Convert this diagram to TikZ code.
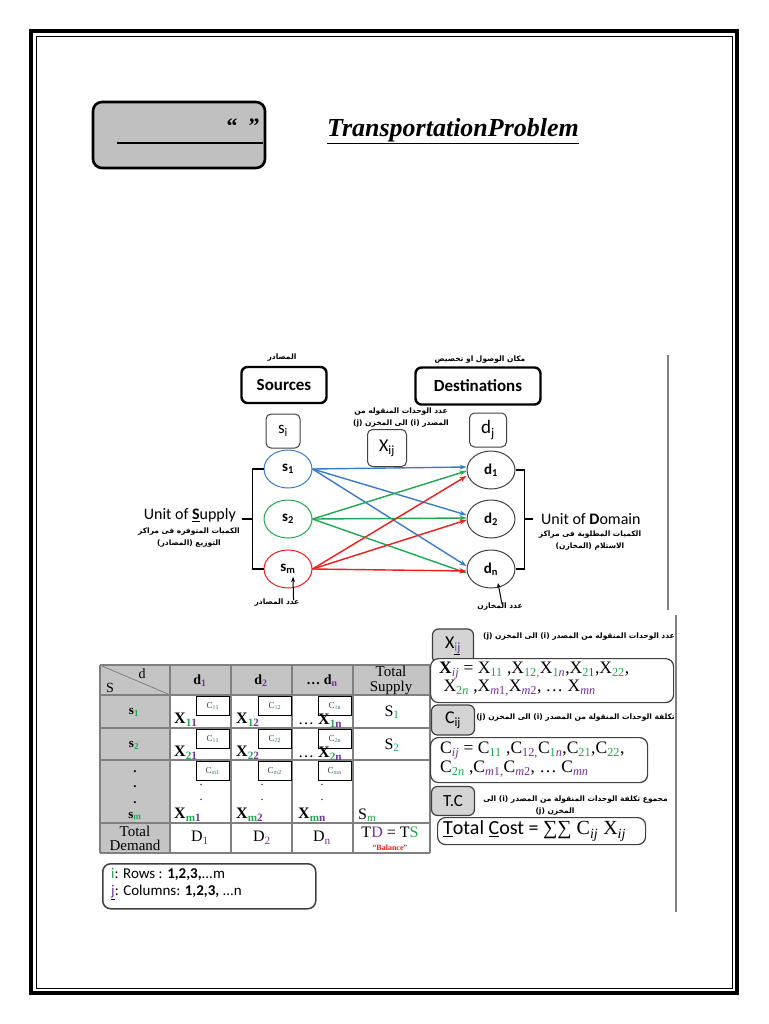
\documentclass[tikz,border=0pt]{standalone}
\usepackage{fontspec}
\usetikzlibrary{shapes.geometric,arrows.meta}
\setmainfont{Liberation Serif}
\newfontfamily\carl{Carlito}
\newfontfamily\arabicfont[Script=Arabic]{DejaVu Sans}
\TeXXeTstate=1
\definecolor{grn}{HTML}{1FA84F}
\definecolor{prp}{HTML}{7030A0}
\definecolor{boxgray}{HTML}{C0C0C0}
\definecolor{tgray}{HTML}{C4C4C4}
\definecolor{tagray}{HTML}{D4D4D4}
\definecolor{lgray}{HTML}{808080}
\definecolor{blu}{HTML}{3A7BC8}
\definecolor{rd}{HTML}{F21B1B}
\definecolor{dgray}{HTML}{404040}
\newcommand\fsz[2]{\fontsize{#1}{#2}\selectfont}
\newcommand\artx[1]{{\arabicfont\bfseries\beginR #1\endR}}
\newcommand\Li[1]{\beginL #1\endL}
\newcommand\gsub[1]{\textsubscript{\textcolor{grn}{#1}}}
\newcommand\psub[1]{\textsubscript{\textcolor{prp}{#1}}}
\newcommand\gpsub[2]{\textsubscript{\textcolor{grn}{#1}\textcolor{prp}{#2}}}
\begin{document}
\begin{tikzpicture}[x=1pt,y=-1pt,
  titlebox/.style={draw, line width=2.6pt, fill=boxgray, rounded corners=9pt},
  bigbox/.style={draw, line width=2.4pt, rounded corners=6pt, inner sep=0pt},
  smallbox/.style={draw=dgray, line width=1pt, rounded corners=5pt, inner sep=0pt},
  ell/.style={ellipse, line width=1pt, minimum width=48pt, minimum height=38pt, inner sep=0pt},
  arr/.style={line width=1.4pt, -{Stealth[length=7pt,width=5pt]}},
  smarr/.style={line width=1pt, -{Stealth[length=5pt,width=4pt]}},
  brk/.style={line width=1.5pt},
  artext/.style={inner sep=0pt, font=\fsz{7.5}{12}},
  tline/.style={draw=lgray, line width=1.2pt},
  cbox/.style={draw, line width=1.4pt, fill=white, inner sep=0pt, minimum width=33pt, minimum height=19pt, anchor=north east, font=\fsz{9}{10}\color{dgray}},
  ttxt/.style={inner sep=0pt},
  tag/.style={draw=dgray, line width=1.2pt, fill=tagray, rounded corners=6pt, inner sep=0pt},
  fbox/.style={draw=dgray, line width=1.2pt, fill=white, rounded corners=8pt, inner sep=0pt},
  vline/.style={draw=lgray, line width=1.5pt}
]
\useasboundingbox (0,0) rectangle (768,1024);
% page border
\draw[line width=4pt] (31,31) rectangle (737,993);
\draw[line width=0.8pt] (36,36) rectangle (732,988);

% title
\node[titlebox, minimum width=172pt, minimum height=66pt] (tb) at (179,135) {};
\node[inner sep=0pt] (tq) at (243,126) {\fsz{22}{24}\textbf{“\ \ ”}};
\draw[line width=1.6pt] (117,143) -- (263,143);
\node[inner sep=0pt] (title) at (453,131) {\fsz{26}{30}\underline{\textbf{\textit{TransportationProblem}}}};

% network
\node[bigbox, minimum width=85pt, minimum height=36pt] (src) at (284,385) {\carl\fsz{17}{20}\textbf{Sources}};
\node[bigbox, minimum width=125pt, minimum height=37pt] (dst) at (478,386) {\carl\fsz{17}{20}\textbf{Destinations}};
\node[artext] (srcar) at (282,358) {\artx{المصادر}};
\node[artext] (dstar) at (480,360) {\artx{مكان الوصول او تخصيص}};
\node[smallbox, minimum width=34pt, minimum height=34pt] (si) at (283,431) {\carl\fsz{17}{20}s\textsubscript{i}};
\node[smallbox, minimum width=37pt, minimum height=34pt] (dj) at (488,430) {\carl\fsz{19}{20}d\textsubscript{j}};
\node[smallbox, minimum width=39pt, minimum height=37pt] (xij) at (387,448) {\carl\fsz{18}{20}X\textsubscript{ij}};
\node[artext, align=center] (xijar) at (401,418) {\artx{عدد الوحدات المنقوله من}\\\artx{المصدر \Li{(i)} الى المخزن \Li{(j)}}};

\node[ell, draw=blu] (s1) at (288,469) {\carl\fsz{15}{18}\textbf{s\textsubscript{1}}};
\node[ell, draw=grn] (s2) at (288,519) {\carl\fsz{15}{18}\textbf{s\textsubscript{2}}};
\node[ell, draw=rd] (sm) at (288,569) {\carl\fsz{15}{18}\textbf{s\textsubscript{m}}};
\node[ell, draw=dgray] (d1) at (491,470) {\carl\fsz{15}{18}\textbf{d\textsubscript{1}}};
\node[ell, draw=dgray] (d2) at (491,519) {\carl\fsz{15}{18}\textbf{d\textsubscript{2}}};
\node[ell, draw=dgray] (dn) at (491,569) {\carl\fsz{15}{18}\textbf{d\textsubscript{n}}};

\draw[arr, blu] (s1.east) -- ([yshift=3pt]d1.west);
\draw[arr, blu] (s1.east) -- ([yshift=4pt]d2.west);
\draw[arr, blu] (s1.east) -- ([yshift=3pt]dn.west);
\draw[arr, grn] (s2.east) -- ([yshift=-1pt]d1.west);
\draw[arr, grn] (s2.east) -- ([yshift=1pt]d2.west);
\draw[arr, grn] (s2.east) -- ([yshift=-4pt]dn.west);
\draw[arr, rd] (sm.east) -- ([yshift=-6pt]d1.west);
\draw[arr, rd] (sm.east) -- ([yshift=-1pt]d2.west);
\draw[arr, rd] (sm.east) -- ([yshift=-2pt]dn.west);

\draw[brk] (s1.west) -- ++(-11,0) |- (sm.west);
\coordinate (lbm) at (253,519);
\draw[brk] (lbm) -- ++(-11,0);
\draw[brk] (d1.east) -- ++(9,0) |- (dn.east);
\coordinate (rbm) at (524,519);
\draw[brk] (rbm) -- ++(9,0);

\node[anchor=east, inner sep=0pt] (usup) at (236,515) {\carl\fsz{16}{18}Unit of \underline{\textbf{S}}upply};
\node[artext, align=center] (usupar) at (189,538) {\artx{الكميات المتوفره فى مراكز}\\\artx{التوزيع (المصادر)}};
\node[anchor=west, inner sep=0pt] (udom) at (541,519) {\carl\fsz{16}{18}Unit of \textbf{D}omain};
\node[artext, align=center] (udomar) at (590,541) {\artx{الكميات المطلوبة فى مراكز}\\\artx{الاستلام (المخازن)}};

\node[artext] (nsrc) at (277,603) {\artx{عدد المصادر}};
\node[artext] (ndst) at (500,607) {\artx{عدد المخازن}};
\draw[smarr] ([xshift=-6pt,yshift=-1pt]nsrc.north east) -- ([xshift=5pt,yshift=-8pt]sm.center);
\draw[smarr] ([xshift=2pt,yshift=-1pt]ndst.north) -- ([xshift=7pt,yshift=-14pt]dn.center);

\draw[vline] (668,355) -- (668,610);

% table
\fill[tgray] (100,665) rectangle (430,695);
\fill[tgray] (100,695) rectangle (170,853);
\foreach \xx in {100,170,231,292,353,430} \draw[tline] (\xx,665) -- (\xx,853);
\foreach \yy in {665,695,728,760,823,853} \draw[tline] (100,\yy) -- (430,\yy);
\draw[draw=lgray, line width=0.8pt] (102,666) -- (168,694);
\node[ttxt] (hd) at (142,674) {\fsz{14}{16}d};
\node[ttxt] (hs) at (110,688) {\fsz{14}{16}S};
\node[ttxt] (h1) at (200,681) {\fsz{14}{16}\textbf{d}\psub{\textbf{1}}};
\node[ttxt] (h2) at (261,681) {\fsz{14}{16}\textbf{d}\psub{\textbf{2}}};
\node[ttxt] (h3) at (322,681) {\fsz{14}{16}\textbf{… d}\psub{\textbf{n}}};
\node[ttxt, align=center, font=\fsz{15}{15}] (hts) at (391,680) {Total\\Supply};

\node[ttxt] (r1) at (134,712) {\fsz{13}{15}\textbf{s}\gsub{\textbf{1}}};
\node[ttxt] (r2) at (134,745) {\fsz{13}{15}\textbf{s}\gsub{\textbf{2}}};
\node[ttxt] (r3a) at (135,772) {\fsz{13}{15}\textbf{.}};
\node[ttxt] (r3b) at (135,787) {\fsz{13}{15}\textbf{.}};
\node[ttxt] (r3c) at (135,803) {\fsz{13}{15}\textbf{.}};
\node[ttxt] (rm) at (135,816) {\fsz{13}{15}\textbf{s}\gsub{\textbf{m}}};
\node[ttxt, align=center, font=\fsz{15}{14}] (rtd) at (135,838) {Total\\Demand};

\node[cbox] (c11) at (230,696) {C\gpsub{1}{1}};
\node[cbox] (c12) at (292,696) {C\gpsub{1}{2}};
\node[cbox] (c1n) at (352,696) {C\gpsub{1}{n}};
\node[cbox] (c21) at (230,729) {C\gpsub{1}{1}};
\node[cbox] (c22) at (292,729) {C\gpsub{2}{2}};
\node[cbox] (c2n) at (352,729) {C\gpsub{2}{n}};
\node[cbox] (cm1) at (230,761) {C\gpsub{m}{1}};
\node[cbox] (cm2) at (292,761) {C\gpsub{m}{2}};
\node[cbox] (cmn) at (352,761) {C\gpsub{m}{n}};

\node[ttxt, anchor=west] (x11) at (174,720) {\fsz{16}{18}\textbf{X}\gpsub{\textbf{1}}{\textbf{1}}};
\node[ttxt, anchor=west] (x12) at (236,720) {\fsz{16}{18}\textbf{X}\gpsub{\textbf{1}}{\textbf{2}}};
\node[ttxt, anchor=west] (x1n) at (298,721) {\fsz{16}{18}… \textbf{X}\gpsub{\textbf{1}}{\textbf{n}}};
\node[ttxt, anchor=west] (x21) at (174,753) {\fsz{16}{18}\textbf{X}\gpsub{\textbf{2}}{\textbf{1}}};
\node[ttxt, anchor=west] (x22) at (236,753) {\fsz{16}{18}\textbf{X}\gpsub{\textbf{2}}{\textbf{2}}};
\node[ttxt, anchor=west] (x2n) at (298,754) {\fsz{16}{18}… \textbf{X}\gpsub{\textbf{2}}{\textbf{n}}};
\foreach \xx/\nm in {201/a,262/b,322/c} {
  \node[ttxt] (dt1\nm) at (\xx,785) {\fsz{12}{14}.};
  \node[ttxt] (dt2\nm) at (\xx,800) {\fsz{12}{14}.};
}
\node[ttxt, anchor=west] (xm1) at (174,815) {\fsz{16}{18}\textbf{X}\gpsub{\textbf{m}}{\textbf{1}}};
\node[ttxt, anchor=west] (xm2) at (236,815) {\fsz{16}{18}\textbf{X}\gpsub{\textbf{m}}{\textbf{2}}};
\node[ttxt, anchor=west] (xmn) at (298,815) {\fsz{16}{18}\textbf{X}\gpsub{\textbf{m}}{\textbf{n}}};

\node[ttxt] (ts1) at (392,712) {\fsz{16}{18}S\gsub{1}};
\node[ttxt] (ts2) at (392,745) {\fsz{16}{18}S\gsub{2}};
\node[ttxt, anchor=west] (tsm) at (358,815) {\fsz{16}{18}S\gsub{m}};
\node[ttxt] (td1) at (200,838) {\fsz{16}{18}D\psub{1}};
\node[ttxt] (td2) at (262,838) {\fsz{16}{18}D\psub{2}};
\node[ttxt] (tdn) at (322,838) {\fsz{16}{18}D\psub{n}};
\node[ttxt] (tdts) at (390,832) {\fsz{16}{18}T\textcolor{prp}{D} = T\textcolor{grn}{S}};
\node[ttxt] (bal) at (390,848) {\fsz{8}{9}“\textcolor{rd}{\textbf{Balance}}”};

% right panel
\draw[vline] (676,615) -- (676,912);
\node[tag, minimum width=41pt, minimum height=34pt] (tx) at (453,646) {\carl\fsz{18}{20}X\textsubscript{\underline{\textcolor{grn}{i}\textcolor{prp}{j}}}};
\node[artext, anchor=east] (txar) at (675,637) {\artx{عدد الوحدات المنقوله من المصدر \Li{(i)} الى المخزن \Li{(j)}}};
\node[fbox, minimum width=243pt, minimum height=44pt, anchor=north west] (fx) at (430,658) {};
\node[ttxt, anchor=north west, align=left, font=\fsz{17.5}{18}] (fxt) at (439,662) {\textbf{X}\psub{\textit{ij}} = X\gsub{11} ,X\gsub{12,}X\gpsub{1}{\textit{n}},X\gpsub{2}{1},X\gsub{22},\\
\ X\gsub{2\textit{n}} ,X\psub{\textit{m}1,}X\psub{\textit{m}2}, … X\psub{\textit{mn}}};

\node[tag, minimum width=43pt, minimum height=30pt] (tc) at (453,720) {\carl\fsz{18}{20}C\textsubscript{ij}};
\node[artext, anchor=east] (tcar) at (675,718) {\artx{تكلفة الوحدات المنقولة من المصدر \Li{(i)} الى المخزن \Li{(j)}}};
\node[fbox, minimum width=217pt, minimum height=45pt, anchor=north west] (fc) at (430,737) {};
\node[ttxt, anchor=north west, align=left, font=\fsz{17.5}{19}] (fct) at (440,742) {C\psub{\textit{ij}} = C\gsub{11} ,C\psub{12,}C\gpsub{1}{\textit{n}},C\gsub{21},C\gsub{22},\\
C\gsub{2\textit{n}} ,C\psub{\textit{m}1,}C\psub{\textit{m}2}, … C\psub{\textit{mn}}};

\node[tag, minimum width=43pt, minimum height=29pt] (ttc) at (453,801) {\carl\fsz{17}{20}T.C};
\node[artext, anchor=east] (ttcar) at (668,800) {\artx{مجموع تكلفة الوحدات المنقولة من المصدر \Li{(i)} الى}};
\node[artext] (ttcar2) at (555,812) {\artx{المخزن \Li{(j)}}};
\node[fbox, minimum width=208pt, minimum height=27pt, anchor=north west] (ftc) at (437,817) {};
\node[ttxt, anchor=west] (ftct) at (443,831) {\carl\fsz{20}{22}\underline{T}otal \underline{C}ost = {\rmfamily∑∑ C\textsubscript{\textit{ij}} X\textsubscript{\textit{ij}}}};

% i j box
\node[fbox, draw=dgray, line width=1.5pt, minimum width=213pt, minimum height=45pt, anchor=north west] (ijb) at (102,863) {};
\node[ttxt, anchor=north west, align=left, font=\carl\fsz{15}{17}] (ijt) at (111,868) {\textcolor{grn}{i}: Rows : \textbf{1,2,3,}...m\\
\underline{\textcolor{prp}{j}}: Columns: \textbf{1,2,3,} ...n};
\end{tikzpicture}
\end{document}
